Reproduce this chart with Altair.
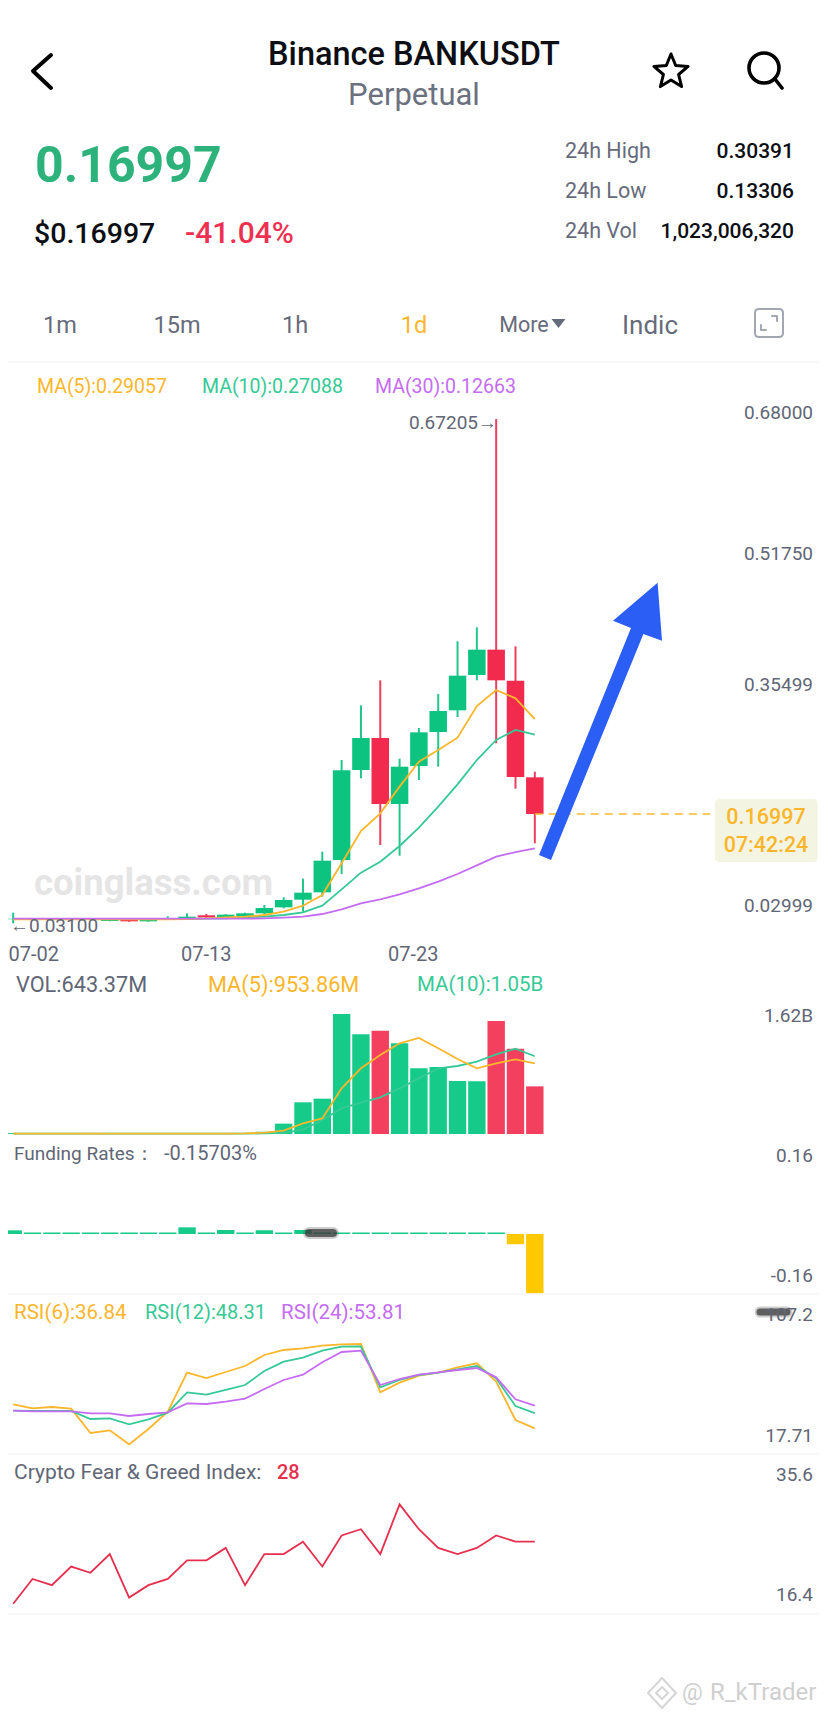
import altair as alt
import pandas as pd

# ---------- data ----------
opens  = [.03607,.03692,.03650,.03670,.03660,.03395,.03607,.03353,.03607,.03734,.04116,.03861,.04031,.04370,
          .05133,.06107,.07039,.11150,.22590,.26658,.18268,.23099,.27421,.30175,.34667,.37887,.33946,.21658]
closes = [.03692,.03650,.03670,.03640,.03630,.03607,.03353,.03607,.03734,.03950,.03861,.04200,.04370,.05048,
          .06065,.06997,.11065,.22548,.26658,.18268,.23014,.27378,.30090,.34582,.37887,.33989,.21700,.16997]
highs  = [.04455,.03750,.03720,.03710,.03700,.03650,.03650,.03650,.04000,.04370,.04285,.04250,.04450,.05429,
          .06404,.08777,.12209,.23861,.30811,.33989,.24031,.27929,.32251,.38946,.40726,.67205,.38311,.22378]
lows   = [.03100,.03600,.03600,.03600,.03580,.03353,.03300,.03300,.03560,.03700,.03800,.03800,.03950,.04285,
          .05005,.04582,.06488,.09370,.21531,.13056,.11700,.21319,.23014,.29328,.33989,.25980,.20217,.13268]
ma5    = [.03607,.03607,.03607,.03607,.03607,.03607,.03607,.03607,.03607,.03650,.03734,.03861,.03946,.04158,.04582,
          .05344,.06700,.10726,.14836,.17082,.20472,.23650,.25133,.26700,.30726,.32760,.31700,.29057]
ma10   = [.03650,.03650,.03650,.03650,.03650,.03650,.03650,.03650,.03650,.03650,.03692,.03734,.03861,.03946,.04158,
          .04497,.05344,.07421,.09539,.10938,.12929,.15260,.17929,.20768,.23861,.26404,.27675,.27088]
ma30   = [.03692,.03692,.03692,.03692,.03692,.03692,.03692,.03692,.03692,.03692,.03692,.03692,.03692,.03734,.03819,
          .03946,.04285,.04878,.05641,.06150,.06785,.07548,.08395,.09370,.10471,.11573,.12166,.12633]
volume = [12,14,12,14,14,12,14,10,10,10,10,10,14,32,140,428,477,1620,1346,1395,1224,887,905,716,711,1526,1152,643.37]
vol_ma5  = [6,6,6,6,6,6,6,6,6,6,6,6,8,18,45,144,211,617,887,1067,1224,1296,1157,1013,887,954,1008,953.86]
vol_ma10 = [6,6,6,6,6,6,6,6,6,6,6,6,6,8,14,60,189,346,423,495,616,751,886,918,976,1075,1152,1050]
funding = [.0097,.004,.004,.004,.004,.004,.004,.004,.004,.0176,.004,.0106,.004,.0097,.004,.0106,.004,.004,.004,.004,
           .004,.004,.004,.004,.004,.004,-.0273,-.15703]
rsi6  = [54.84,51.84,52.84,51.59,33.34,35.34,24.84,36.34,49.34,78.59,74.59,79.09,83.59,91.84,95.59,96.84,98.84,99.84,
         100.09,63.84,71.09,76.34,78.59,82.59,85.59,71.84,43.09,36.84]
rsi12 = [50.09,49.84,49.84,49.84,43.84,44.34,39.84,43.59,48.59,63.84,62.09,65.59,69.34,79.84,86.84,89.84,95.09,98.09,
         98.34,67.59,73.09,76.84,78.59,81.09,83.59,74.34,53.59,48.31]
rsi24 = [50.09,49.59,49.59,49.59,48.09,48.09,46.09,47.59,48.84,55.59,55.09,56.84,59.09,66.34,73.09,77.09,86.34,94.09,
         95.09,69.34,73.84,77.09,78.84,80.59,82.09,75.09,58.59,53.81]
fear_greed = [18,22,21,24,23,26,19,21,22,25,25,27,21,26,26,28,24,29,30,26,34,30,27,26,27,29,28,28]
red_days = [1,3,4,6,10,19,25,26,27]

GREEN, RED = "#0cc47f", "#f12a4e"
VGREEN, VRED = "#16cb8a", "#f4405f"
ORANGE, TEAL, PURPLE = "#fcb62b", "#36c996", "#c56cf2"
GREY, DARK = "#616676", "#0c0e14"
W, H = 812, 1703
FONT = "Roboto"

idx = list(range(28))
df = pd.DataFrame(dict(i=idx, o=opens, c=closes, h=highs, l=lows, ma5=ma5, ma10=ma10, ma30=ma30,
                       vol=volume, vma5=vol_ma5, vma10=vol_ma10, fund=funding, r6=rsi6, r12=rsi12, r24=rsi24,
                       fg=fear_greed, zero=[0.0]*28))
df["col"] = [RED if i in red_days else GREEN for i in idx]
df["wick"] = ["#ea3f5e" if i in red_days else "#22c68a" for i in idx]
df["vcol"] = [VRED if i in red_days else VGREEN for i in idx]
df["fcol"] = [("#ffc800" if v < 0 else VGREEN) for v in funding]

STEP = 19.56
XDOM = [-0.2 / STEP, (W - 0.2) / STEP]
X = alt.X("i:Q", scale=alt.Scale(domain=XDOM, nice=False, zero=False), axis=None)
def yy(field, dom):
    return alt.Y(field, scale=alt.Scale(domain=dom, nice=False, zero=False), axis=None)
def yy2(field):
    return alt.Y2(field)
def dom(v0, real_y, k):
    """scale domain that puts value v0 at page row real_y, with k pixels per unit"""
    y0 = real_y - 8
    return [v0 - (H - y0) / k, v0 + y0 / k]

PRICE = dom(0.16997, 814, 786.7)
VOL = dom(0, 1134, 1 / 13.5)
FUND = dom(0, 1234, 378)
RSI = dom(36.84, 1428.33, 4 / 3)
FG = dom(28, 1541.67, 6.213)

base = alt.Chart(df)
layers = []
dummy = pd.DataFrame({"a": [0]})

def px(x): return x - 8
def txt(t, x, y, size=19, color=GREY, align="left", weight=400, font=FONT, opacity=1):
    layers.append(alt.Chart(dummy).mark_text(x=px(x), y=px(y + 1), fontSize=size, color=color, align=align,
                                             baseline="middle", fontWeight=weight, font=font, opacity=opacity)
                  .encode(text=alt.value(t)))
def shape(path, x, y, fill=None, stroke=None, sw=0):
    kw = dict(shape=path, size=4, x=px(x), y=px(y), opacity=1)
    if fill:
        kw.update(filled=True, fill=fill, strokeWidth=0)
    else:
        kw.update(filled=False, stroke=stroke, strokeWidth=sw, strokeCap="round", strokeJoin="round")
    layers.append(alt.Chart(dummy).mark_point(**kw).encode(opacity=alt.value(1)))
def sep(y):
    layers.append(alt.Chart(dummy).mark_rule(color="#f1f1f1", strokeWidth=1)
                  .encode(x=alt.value(0), x2=alt.value(W), y=alt.value(px(y))))
def smudge(x1, x2, y, sw):
    for extra, op in ((4, .25), (0, .75)):
        layers.append(alt.Chart(dummy).mark_rule(color="#3a3a3a", strokeWidth=sw + extra, strokeCap="round", opacity=op)
                      .encode(x=alt.value(px(x1)), x2=alt.value(px(x2)), y=alt.value(px(y))))

# ---------- watermark under the candles ----------
txt("coinglass.com", 34, 883, 36.5, "#e5e5e5", weight=700)

# ---------- candles ----------
layers.append(base.mark_rule(strokeWidth=2).encode(x=X, y=yy("h:Q", PRICE), y2=yy2("l:Q"), color=alt.Color("wick:N", scale=None)))
layers.append(base.mark_bar(size=17.5, orient="vertical").encode(x=X, y=yy("o:Q", PRICE), y2=yy2("c:Q"), color=alt.Color("col:N", scale=None)))
for f, c in (("ma10", TEAL), ("ma5", ORANGE), ("ma30", PURPLE)):
    layers.append(base.mark_line(color=c, strokeWidth=1.8).encode(x=X, y=yy(f + ":Q", PRICE)))

# last price guide
guide = pd.DataFrame({"p": [0.16997], "a": [27.0], "b": [36.08]})
layers.append(alt.Chart(guide).mark_rule(color=ORANGE, strokeWidth=1.3, strokeDash=[8, 6])
              .encode(x=alt.X("a:Q", scale=alt.Scale(domain=XDOM, nice=False, zero=False), axis=None),
                      x2="b:Q", y=yy("p:Q", PRICE)))

# ---------- volume ----------
layers.append(base.mark_bar(size=17.4, orient="vertical").encode(x=X, y=yy("vol:Q", VOL), y2=yy2("zero:Q"), color=alt.Color("vcol:N", scale=None)))
for f, c in (("vma10", TEAL), ("vma5", ORANGE)):
    layers.append(base.mark_line(color=c, strokeWidth=1.8).encode(x=X, y=yy(f + ":Q", VOL)))

# ---------- funding ----------
layers.append(base.mark_bar(size=17.4, orient="vertical").encode(x=X, y=yy("fund:Q", FUND), y2=yy2("zero:Q"), color=alt.Color("fcol:N", scale=None)))
smudge(309, 333, 1233, 8)

# ---------- RSI ----------
for f, c in (("r6", ORANGE), ("r12", TEAL), ("r24", PURPLE)):
    layers.append(base.mark_line(color=c, strokeWidth=1.8).encode(x=X, y=yy(f + ":Q", RSI)))
smudge(760, 787, 1312, 7)

# ---------- fear & greed ----------
layers.append(base.mark_line(color="#e5304f", strokeWidth=1.8).encode(x=X, y=yy("fg:Q", FG)))

# ---------- separators ----------
for y in (362, 1294, 1454, 1614):
    sep(y)

# ---------- header ----------
txt("Binance BANKUSDT", 414, 54, 32.5, DARK, "center", 500)
txt("Perpetual", 414, 95, 31, "#6c7180", "center", 400)
txt("0.16997", 35, 166, 50, "#2db27b", weight=700)
txt("$0.16997", 34, 233, 28.5, DARK, weight=500)
txt("-41.04%", 185, 233, 30, "#ee3150", weight=500)
for lab, val, y in (("24h High", "0.30391", 151), ("24h Low", "0.13306", 191), ("24h Vol", "1,023,006,320", 231)):
    txt(lab, 565, y, 21.5, "#666b7b")
    txt(val, 794, y, 21, DARK, "right", 500)
for lab, x, c, s in (("1m", 60, "#666b7b", 23.5), ("15m", 177, "#666b7b", 23.5), ("1h", 295, "#666b7b", 23.5),
                     ("1d", 414, ORANGE, 23.5), ("More", 524, "#666b7b", 21.5), ("Indic", 650, "#666b7b", 26)):
    txt(lab, x, 325, s, c, "center")

# icons
layers.append(alt.Chart(dummy).mark_point(shape="M18,-16L0,0L18,17", size=4, x=px(33), y=px(71), filled=False,
              stroke="#000000", strokeWidth=4, strokeCap="round", strokeJoin="round", opacity=1).encode(opacity=alt.value(1)))
shape("M0,-18L4.7,-6.5L17.1,-5.6L7.6,2.5L10.6,14.6L0,8L-10.6,14.6L-7.6,2.5L-17.1,-5.6L-4.7,-6.5Z", 671, 72, stroke="#000000", sw=3)
shape("M-15,0A15,15 0 1,1 15,0A15,15 0 1,1 -15,0ZM10.5,10.5L18,20", 764, 68, stroke="#000000", sw=3.6)
shape("M-7,-4.5H7L0,4.5Z", 558.5, 323.5, fill="#666b7b")
shape("M-10,-14H10Q14,-14 14,-10V10Q14,14 10,14H-10Q-14,14 -14,10V-10Q-14,-14 -10,-14ZM3,-7H8V-2M-8,2V7H-3", 769, 323, stroke="#a2a7b2", sw=2)
shape("M539,855L631,628L613,620.7L657.6,582.7L662,640.7L643.4,634L551,860Z", 0, 0, fill="#2a5ef5")
shape("M0,-15L14,0L0,15L-14,0ZM0,-6L6,0L0,6L-6,0Z", 662, 1693, stroke="#d6d6d6", sw=2)

# ---------- price panel text ----------
txt("MA(5):0.29057", 37, 386, 19.5, ORANGE)
txt("MA(10):0.27088", 202, 386, 19.5, TEAL)
txt("MA(30):0.12663", 375, 386, 19.5, PURPLE)
txt("0.67205→", 497, 422, 19, GREY, "right")
txt("←0.03100", 10, 925, 19, GREY)
for lab, y in (("0.68000", 412), ("0.51750", 553), ("0.35499", 684), ("0.02999", 905)):
    txt(lab, 813, y, 19, GREY, "right")
for lab, x in (("07-02", 8.5), ("07-13", 181), ("07-23", 388)):
    txt(lab, x, 954, 20, GREY)
layers.append(alt.Chart(dummy).mark_rect(color="#f3f4e2", cornerRadius=4)
              .encode(x=alt.value(px(715)), x2=alt.value(px(817.5)), y=alt.value(px(799)), y2=alt.value(px(862))))
txt("0.16997", 766, 817, 21.5, ORANGE, "center", 500)
txt("07:42:24", 766, 845, 21.5, ORANGE, "center", 500)

# ---------- lower panels text ----------
txt("VOL:643.37M", 16, 984, 21.7, GREY)
txt("MA(5):953.86M", 208, 984, 21.7, ORANGE)
txt("MA(10):1.05B", 417, 984, 20.5, TEAL)
txt("1.62B", 813, 1015, 19, GREY, "right")
txt("Funding Rates：", 14, 1153, 19, GREY)
txt("-0.15703%", 164, 1153, 20, GREY)
txt("0.16", 813, 1155, 19, GREY, "right")
txt("-0.16", 813, 1275, 19, GREY, "right")
txt("RSI(6):36.84", 14, 1312, 20.5, ORANGE)
txt("RSI(12):48.31", 145, 1312, 20, TEAL)
txt("RSI(24):53.81", 281, 1312, 20.5, PURPLE)
txt("107.2", 813, 1314, 19, GREY, "right")
txt("17.71", 813, 1435, 19, GREY, "right")
txt("Crypto Fear & Greed Index:", 14, 1472, 21, GREY)
txt("28", 277, 1472, 20, "#e5304f", weight=500)
txt("35.6", 813, 1474, 19, GREY, "right")
txt("16.4", 813, 1594, 19, GREY, "right")
txt("@", 682, 1692, 23, "#cfcfcf")
txt("R_kTrader", 710, 1692, 24, "#cfcfcf")

chart = (alt.layer(*layers)
         .resolve_scale(y="independent")
         .properties(width=W, height=H, padding=0, background="#ffffff",
                     autosize=alt.AutoSizeParams(type="none"))
         .configure_view(strokeWidth=0))
chart.save("out.html", embed_options={"renderer": "svg", "actions": False})
